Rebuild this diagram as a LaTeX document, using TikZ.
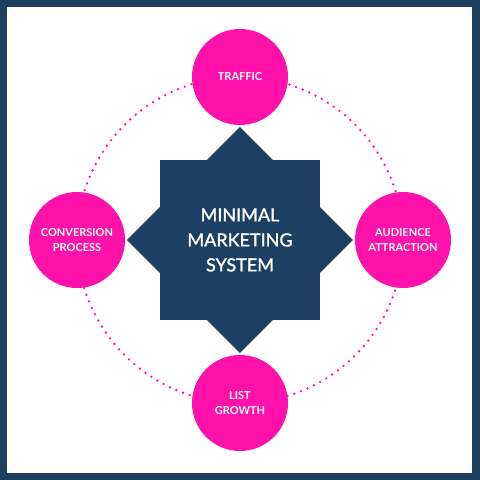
\documentclass[tikz,border=0pt]{standalone}
\usepackage{fontspec}
\setmainfont{Lato}
\newfontfamily\latomid[FakeBold=1.3]{Lato}
\definecolor{navy}{RGB}{28,63,99}
\definecolor{hotpink}{RGB}{255,17,170}
\tikzset{
  stage/.style={circle,fill=hotpink,minimum size=96pt,inner sep=0pt,
    text=white,align=center,font=\bfseries\fontsize{11}{15.5}\selectfont},
  core/.style={text=white,align=center,font=\latomid\fontsize{18}{25}\selectfont}
}
\begin{document}
\begin{tikzpicture}[x=1pt,y=1pt]
\fill[white](-240,-240)rectangle(240,240);
\draw[navy,line width=7.5](-236.25,-236.25)rectangle(236.25,236.25);
\draw[hotpink,line width=2.6,line cap=round,dash pattern=on 0pt off 7.1pt](0,0)circle(163);
\fill[navy](-80,-80)rectangle(80,80);
\fill[navy](0,113)--(113,0)--(0,-113)--(-113,0)--cycle;
\node[core](sys) at (0,0){MINIMAL\\MARKETING\\SYSTEM};
\node[stage](traffic) at (0,163){TRAFFIC};
\node[stage](audience) at (163,0){AUDIENCE\\ATTRACTION};
\node[stage](growth) at (0,-163){LIST\\GROWTH};
\node[stage](conversion) at (-163,0){CONVERSION\\PROCESS};
\end{tikzpicture}
\end{document}
